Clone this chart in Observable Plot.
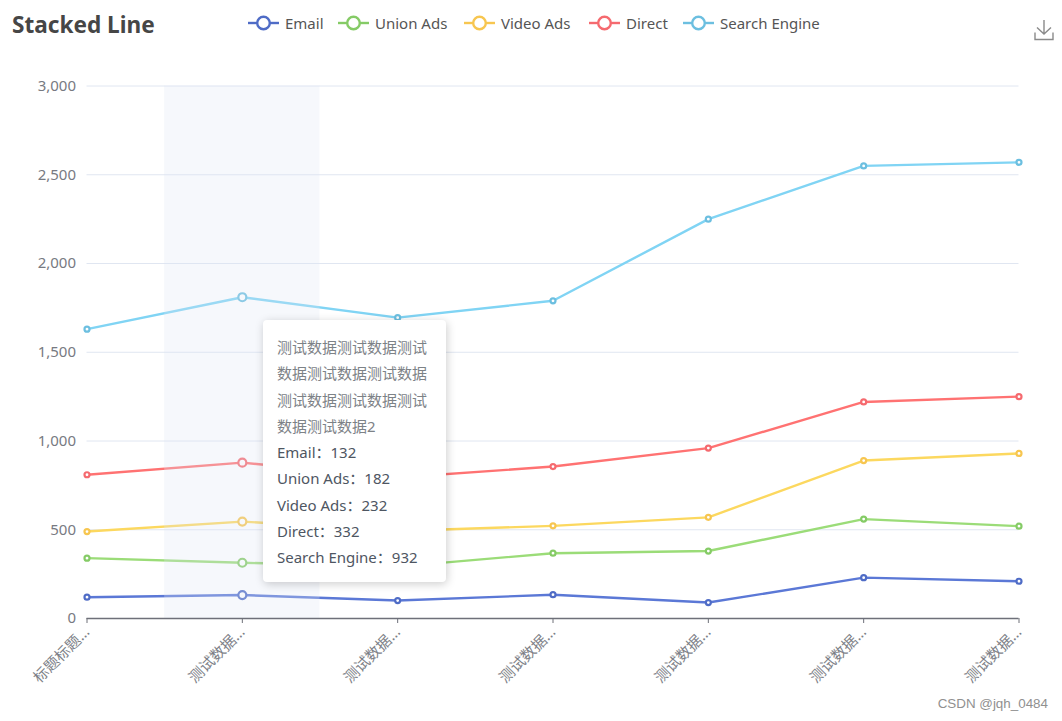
<!DOCTYPE html>
<html>
<head>
<meta charset="utf-8">
<script src="https://cdn.jsdelivr.net/npm/d3@7"></script>
<script src="https://cdn.jsdelivr.net/npm/@observablehq/plot@0.6"></script>
<style>
  html, body { margin: 0; padding: 0; background: #fff; }
  body { font-family: "Noto Sans", "Noto Sans CJK SC", sans-serif; }
  #wrap { position: relative; width: 1062px; height: 721px; overflow: hidden; }
  #title { position: absolute; left: 12px; top: 8px; font-size: 22.6px; line-height: 34px; font-weight: 700; color: #464646; }
  #legend { position: absolute; left: 0; top: 11px; height: 24px; }
  .item { position: absolute; top: 0; height: 24px; display: flex; align-items: center; font-size: 15px; color: #555; white-space: nowrap; }
  .item svg { margin-right: 6px; }
  #tip { position: absolute; left: 263px; top: 320px; width: 155px; height: 234px; padding: 14px; background: #fff; border-radius: 4px; box-shadow: 1px 2px 10px rgba(0,0,0,.2); font-size: 15px; line-height: 26.3px; color: #666; }
  #tip .head { color: #7d8287; font-size: 15px; }
  #tip .row { white-space: nowrap; color: #4e5662; }
  #mark { position: absolute; right: 7px; top: 19px; }
  #credit { position: absolute; right: 14px; top: 696px; font-size: 13.4px; color: #909090; font-family: "Liberation Sans", sans-serif; }
</style>
</head>
<body>
<div id="wrap">
  <div id="plot"></div>
  <div id="title">Stacked Line</div>
  <div id="legend"></div>
  <div id="tip"></div>
  <svg id="mark" width="22" height="22" viewBox="0 0 22 22" fill="none" stroke="#8a8a8a" stroke-width="1.4"><path d="M11 1V15M4 8.5L11 15L18 8.5M2 13.5V20.5H20V13.5"/></svg>
  <div id="credit">CSDN @jqh_0484</div>
</div>
<script>
const categories = ["标题标题…", "测试数据…", "测试数据…", "测试数据…", "测试数据…", "测试数据…", "测试数据…"];
const seriesNames = ["Email", "Union Ads", "Video Ads", "Direct", "Search Engine"];
const email = [120, 132, 101, 134, 90, 230, 210];
const unionAds = [220, 182, 191, 234, 290, 330, 310];
const videoAds = [150, 232, 201, 154, 190, 330, 410];
const direct = [320, 332, 301, 334, 390, 330, 320];
const searchEngine = [820, 932, 901, 934, 1290, 1330, 1320];
const lineColors = ["#5b78d6", "#9bdc78", "#fcd85f", "#ff7272", "#80d4f4"];
const dotColors = ["#4f6cc6", "#85cb66", "#f7c650", "#f56a6f", "#6cbfe0"];
const yTicks = [0, 500, 1000, 1500, 2000, 2500, 3000];
const activeIndex = 1;
const tooltipHead = "测试数据测试数据测试数据测试数据测试数据测试数据测试数据测试数据测试数据2";
const legendLeft = [248, 338, 464, 589, 683];

const values = [email, unionAds, videoAds, direct, searchEngine];
const table = seriesNames.flatMap((s, i) => values[i].map((v, k) => ({series: s, k, v})));
const stack = {x: "k", y: "v", z: "series"};
const band = [{a: activeIndex - 0.5, b: activeIndex + 0.5}];

const chart = Plot.plot({
  width: 1062,
  height: 721,
  marginLeft: 86.5,
  marginRight: 43.5,
  marginTop: 85.5,
  marginBottom: 103,
  style: {background: "transparent", fontFamily: '"Noto Sans", "Noto Sans CJK SC", sans-serif', fontSize: "15px"},
  x: {domain: [0, categories.length - 1]},
  y: {domain: [0, 3000]},
  color: {domain: seriesNames, range: lineColors},
  marks: [
    Plot.gridY(yTicks, {stroke: "#e0e6f1", strokeOpacity: 1, strokeWidth: 1}),
    Plot.lineY(table, Plot.stackY2({...stack, stroke: "series", strokeWidth: 2.4})),
    Plot.dotY(table, Plot.stackY2({...stack, stroke: d => dotColors[seriesNames.indexOf(d.series)], fill: "#fff", r: 2.5, strokeWidth: 2.2})),
    Plot.dotY(table.filter(d => d.k === activeIndex), Plot.stackY2({...stack, stroke: d => dotColors[seriesNames.indexOf(d.series)], fill: "#fff", r: 4, strokeWidth: 2.2})),
    Plot.rectX(band, {x1: "a", x2: "b", y1: 0, y2: 3000, fill: "#dfe6f5", fillOpacity: 0.28}),
    Plot.ruleY([0], {stroke: "#6e7079", strokeWidth: 1.5}),
    Plot.axisY({ticks: yTicks, tickFormat: d3.format(","), tickSize: 0, tickPadding: 11, label: null, color: "#777a82", fontSize: 15}),
    Plot.axisX({
      ticks: categories.map((_, i) => i),
      tickFormat: i => categories[i],
      tickSize: 5,
      tickPadding: 6,
      stroke: "#6e7079",
      fill: "#7d7f87",
      tickRotate: -45,
      textAnchor: "end",
      label: null,
      fontSize: 15
    })
  ]
});
document.getElementById("plot").appendChild(chart);

const legend = document.getElementById("legend");
seriesNames.forEach((s, i) => {
  const el = document.createElement("div");
  el.className = "item";
  el.style.left = legendLeft[i] + "px";
  el.innerHTML = `<svg width="31" height="16" viewBox="0 0 31 16"><line x1="0" x2="31" y1="8" y2="8" stroke="${dotColors[i]}" stroke-width="2.4"/><circle cx="15.5" cy="8" r="6.3" fill="#fff" stroke="${dotColors[i]}" stroke-width="2.4"/></svg><span>${s}</span>`;
  legend.appendChild(el);
});

const tip = document.getElementById("tip");
const head = document.createElement("div");
head.className = "head";
head.textContent = tooltipHead;
tip.appendChild(head);
seriesNames.forEach((s, i) => {
  const r = document.createElement("div");
  r.className = "row";
  r.textContent = `${s}：${values[i][activeIndex]}`;
  tip.appendChild(r);
});
</script>
</body>
</html>
